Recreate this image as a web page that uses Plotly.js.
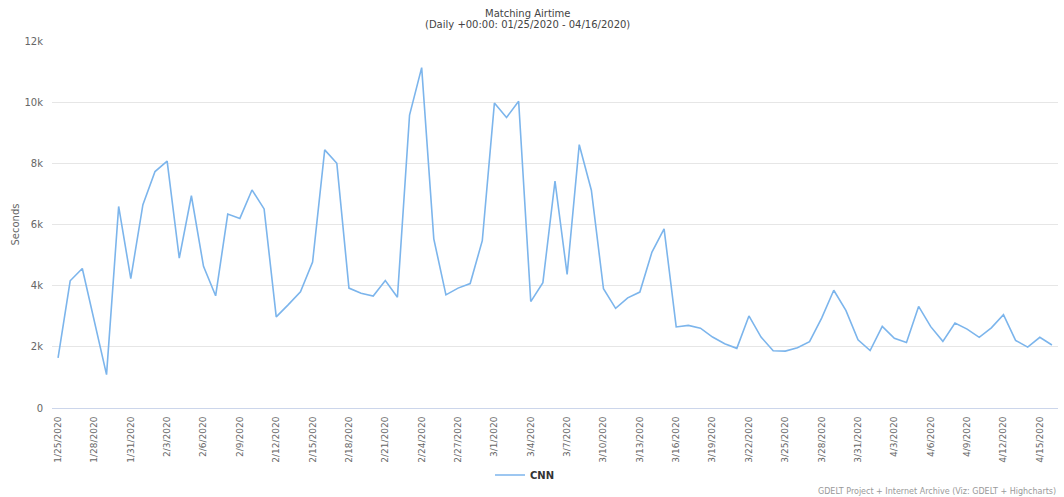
<!DOCTYPE html>
<html>
<head>
<meta charset="utf-8">
<script src="https://cdn.plot.ly/plotly-3.0.1.min.js"></script>
<style>
  html, body { margin: 0; padding: 0; background: #fff; }
  #chart { width: 1064px; height: 497px; }
</style>
</head>
<body>
<div id="chart"></div>
<script>
const dates = [
  "1/25/2020","1/26/2020","1/27/2020","1/28/2020","1/29/2020","1/30/2020","1/31/2020",
  "2/1/2020","2/2/2020","2/3/2020","2/4/2020","2/5/2020","2/6/2020","2/7/2020","2/8/2020",
  "2/9/2020","2/10/2020","2/11/2020","2/12/2020","2/13/2020","2/14/2020","2/15/2020","2/16/2020",
  "2/17/2020","2/18/2020","2/19/2020","2/20/2020","2/21/2020","2/22/2020","2/23/2020","2/24/2020",
  "2/25/2020","2/26/2020","2/27/2020","2/28/2020","2/29/2020",
  "3/1/2020","3/2/2020","3/3/2020","3/4/2020","3/5/2020","3/6/2020","3/7/2020","3/8/2020",
  "3/9/2020","3/10/2020","3/11/2020","3/12/2020","3/13/2020","3/14/2020","3/15/2020","3/16/2020",
  "3/17/2020","3/18/2020","3/19/2020","3/20/2020","3/21/2020","3/22/2020","3/23/2020","3/24/2020",
  "3/25/2020","3/26/2020","3/27/2020","3/28/2020","3/29/2020","3/30/2020","3/31/2020",
  "4/1/2020","4/2/2020","4/3/2020","4/4/2020","4/5/2020","4/6/2020","4/7/2020","4/8/2020",
  "4/9/2020","4/10/2020","4/11/2020","4/12/2020","4/13/2020","4/14/2020","4/15/2020","4/16/2020"
];

const cnnSeconds = [
  1640, 4160, 4560, 2800, 1090, 6590, 4230, 6650, 7730, 8070,
  4900, 6940, 4630, 3670, 6340, 6200, 7130, 6510, 2980, 3380,
  3800, 4770, 8440, 8000, 3920, 3750, 3660, 4170, 3620, 9580,
  11130, 5530, 3700, 3920, 4070, 5470, 9970, 9500, 10030, 3480,
  4100, 7420, 4370, 8610, 7120, 3900, 3260, 3600, 3790, 5100,
  5860, 2650, 2700, 2610, 2320, 2100, 1950, 3010, 2320, 1870,
  1860, 1970, 2170, 2940, 3850, 3190, 2230, 1880, 2670, 2280,
  2140, 3320, 2660, 2180, 2780, 2580, 2310, 2620, 3050, 2210,
  1990, 2310, 2060
];

const xTickLabels = [
  "1/25/2020","1/28/2020","1/31/2020","2/3/2020","2/6/2020","2/9/2020","2/12/2020",
  "2/15/2020","2/18/2020","2/21/2020","2/24/2020","2/27/2020","3/1/2020","3/4/2020",
  "3/7/2020","3/10/2020","3/13/2020","3/16/2020","3/19/2020","3/22/2020","3/25/2020",
  "3/28/2020","3/31/2020","4/3/2020","4/6/2020","4/9/2020","4/12/2020","4/15/2020"
];

const yTickVals = [0, 2000, 4000, 6000, 8000, 10000, 12000];
const yTickText = ["0", "2k", "4k", "6k", "8k", "10k", "12k"];

const FONT = "DejaVu Sans, Verdana, sans-serif";

const trace = {
  type: "scatter",
  mode: "lines",
  name: "CNN",
  x: dates,
  y: cnnSeconds,
  line: { color: "#7cb5ec", width: 1.6 },
  hoverinfo: "x+y"
};

const layout = {
  width: 1064,
  height: 497,
  paper_bgcolor: "#ffffff",
  plot_bgcolor: "#ffffff",
  margin: { l: 52, r: 6, t: 41, b: 89 },
  font: { family: FONT, size: 10, color: "#666666" },
  showlegend: true,
  legend: {
    orientation: "h",
    x: 0.4702, xanchor: "center",
    y: -0.1826, yanchor: "middle",
    font: { family: FONT, size: 10, color: "#333333", weight: "bold" },
    itemwidth: 30
  },
  xaxis: {
    type: "category",
    range: [-0.5, dates.length - 0.5],
    tickmode: "array",
    tickvals: xTickLabels,
    ticktext: xTickLabels,
    tickangle: -90,
    showgrid: false,
    zeroline: false,
    showline: true,
    linecolor: "#ccd6eb",
    linewidth: 1,
    ticks: "",
    ticklabelstandoff: 4,
    tickfont: { family: FONT, size: 9, color: "#666666" },
    fixedrange: true
  },
  yaxis: {
    range: [0, 12000],
    tickmode: "array",
    tickvals: yTickVals,
    ticktext: yTickText,
    showgrid: true,
    gridcolor: "#e6e6e6",
    gridwidth: 1,
    zeroline: false,
    showline: false,
    ticks: "",
    ticklabelstandoff: 8,
    tickfont: { family: FONT, size: 10, color: "#666666" },
    fixedrange: true
  },
  annotations: [
    {
      text: "Matching Airtime",
      xref: "paper", yref: "paper",
      x: 0.4727, xanchor: "center",
      y: 1 + (41 - 14) / 367, yanchor: "middle",
      showarrow: false,
      font: { family: FONT, size: 10, color: "#444444" }
    },
    {
      text: "(Daily +00:00: 01/25/2020 - 04/16/2020)",
      xref: "paper", yref: "paper",
      x: 0.4727, xanchor: "center",
      y: 1 + (41 - 24) / 367, yanchor: "middle",
      showarrow: false,
      font: { family: FONT, size: 10, color: "#444444" }
    },
    {
      text: "Seconds",
      xref: "paper", yref: "paper",
      x: (15 - 52) / 1006, xanchor: "center",
      y: 0.5, yanchor: "middle",
      textangle: -90,
      showarrow: false,
      font: { family: FONT, size: 10, color: "#666666" }
    },
    {
      text: "GDELT Project + Internet Archive (Viz: GDELT + Highcharts)",
      xref: "paper", yref: "paper",
      x: 1, xanchor: "right",
      y: (408 - 491) / 367, yanchor: "middle",
      showarrow: false,
      font: { family: FONT, size: 8, color: "#999999" }
    }
  ]
};

Plotly.newPlot("chart", [trace], layout, { displayModeBar: false, staticPlot: true });
</script>
</body>
</html>
